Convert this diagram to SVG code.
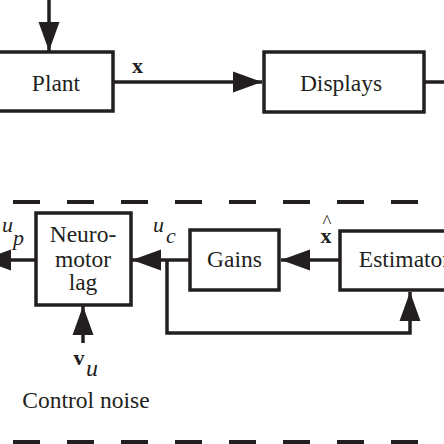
<svg xmlns="http://www.w3.org/2000/svg" width="444" height="444" viewBox="0 0 444 444">
<style>
  .box{fill:#fff;stroke:#231f20;stroke-width:3.5}
  .ln{fill:none;stroke:#231f20;stroke-width:3.5}
  .dash{fill:none;stroke:#231f20;stroke-width:4;stroke-dasharray:27 27}
  .t{font-family:"Liberation Serif","Times New Roman",serif;font-size:23.5px;fill:#231f20;text-anchor:middle}
  .b{font-family:"Liberation Serif","Times New Roman",serif;font-weight:bold;fill:#231f20}
  .i{font-family:"Liberation Serif","Times New Roman",serif;font-style:italic;fill:#231f20}
</style>
<defs>
  <marker id="ah" markerUnits="userSpaceOnUse" markerWidth="30" markerHeight="22" refX="29" refY="11" orient="auto" viewBox="0 0 30 22">
    <path d="M0,0.5 L29,11 L0,21.5 Z" fill="#231f20"/>
  </marker>
</defs>
<g id="dashes">
  <line class="dash" x1="13" y1="202" x2="470" y2="202"/>
  <line class="dash" x1="13" y1="442" x2="470" y2="442"/>
</g>
<g id="connectors">
  <line class="ln" x1="49" y1="-5" x2="49" y2="51" marker-end="url(#ah)"/>
  <line class="ln" x1="113" y1="82" x2="262" y2="82" marker-end="url(#ah)"/>
  <line class="ln" x1="424" y1="82" x2="450" y2="82"/>
  <line class="ln" x1="340" y1="260" x2="281" y2="260" marker-end="url(#ah)"/>
  <line class="ln" x1="190" y1="260" x2="132" y2="260" marker-end="url(#ah)"/>
  <line class="ln" x1="36" y1="260" x2="-18" y2="260" marker-end="url(#ah)"/>
  <path class="ln" d="M167,260 V333 H410 V292" marker-end="url(#ah)"/>
  <line class="ln" x1="83" y1="343" x2="83" y2="306" marker-end="url(#ah)"/>
</g>
<g id="plant">
  <rect class="box" x="-10" y="52" width="123" height="59"/>
  <text class="t" x="56" y="91">Plant</text>
</g>
<g id="displays">
  <rect class="box" x="264" y="52" width="160" height="60"/>
  <text class="t" x="341" y="91">Displays</text>
</g>
<g id="neuromotor">
  <rect class="box" x="36" y="213" width="95" height="92"/>
  <text class="t" x="83" y="242">Neuro-</text>
  <text class="t" x="83" y="266.5">motor</text>
  <text class="t" x="83" y="290">lag</text>
</g>
<g id="gains">
  <rect class="box" x="190" y="230" width="89" height="60"/>
  <text class="t" x="234.5" y="267">Gains</text>
</g>
<g id="estimator">
  <rect class="box" x="340" y="231" width="130" height="59"/>
  <text class="t" x="404.5" y="267">Estimator</text>
</g>
<g id="labels">
  <text class="b" x="137.5" y="73" font-size="22" text-anchor="middle">x</text>
  <text class="i" x="2" y="232" font-size="22">u</text>
  <text class="i" x="13" y="245" font-size="22">p</text>
  <text class="i" x="153" y="232" font-size="22">u</text>
  <text class="i" x="166" y="243" font-size="22">c</text>
  <text class="b" text-anchor="middle" font-size="22"><tspan x="327" y="228" font-size="19" font-weight="normal">^</tspan><tspan x="326" y="243">x</tspan></text>
  <text class="b" x="79" y="365" font-size="22" text-anchor="middle">v</text>
  <text class="i" x="86" y="376" font-size="24">u</text>
  <text class="t" x="86" y="408">Control noise</text>
</g>
</svg>
